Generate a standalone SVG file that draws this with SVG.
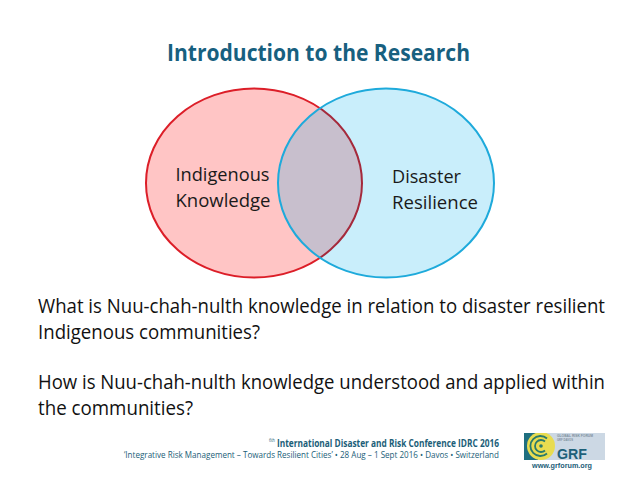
<svg xmlns="http://www.w3.org/2000/svg" width="638" height="478" viewBox="0 0 638 478">
<style>
text{font-family:"Open Sans","Noto Sans",sans-serif}
.body{font-size:19.500px;fill:#111}
.lab{font-size:19px;fill:#1a1a1a}
.foot{fill:#1b5e78}
.logo{font-family:"Liberation Sans",Arial,sans-serif;font-weight:700}
</style>
<defs>
<clipPath id="inBlue"><ellipse cx="386" cy="183" rx="108" ry="94.500"/></clipPath>
<clipPath id="logoBox"><rect x="524" y="433" width="81" height="27"/></clipPath>
</defs>
<rect width="638" height="478" fill="#fff"/>
<text x="167" y="61" font-size="22.500" font-weight="700" fill="#17607f" textLength="303" lengthAdjust="spacingAndGlyphs">Introduction to the Research</text>
<g id="indigenous-knowledge">
<ellipse cx="254" cy="183" rx="108" ry="94.500" fill="#ffc5c5" stroke="#dc1e28" stroke-width="2"/>
</g>
<g id="disaster-resilience">
<ellipse cx="386" cy="183" rx="108" ry="94.500" fill="#c9eefb"/>
</g>
<g id="overlap">
<ellipse cx="254" cy="183" rx="108" ry="94.500" fill="#c8bfcd" clip-path="url(#inBlue)"/>
<ellipse cx="254" cy="183" rx="108" ry="94.500" fill="none" stroke="#a52a3c" stroke-width="2" clip-path="url(#inBlue)"/>
</g>
<g id="disaster-resilience-outline">
<ellipse cx="386" cy="183" rx="108" ry="94.500" fill="none" stroke="#1eaadb" stroke-width="2"/>
</g>
<g id="labels">
<text class="lab" x="175.500" y="181" textLength="94" lengthAdjust="spacingAndGlyphs">Indigenous</text>
<text class="lab" x="175.500" y="207" textLength="95" lengthAdjust="spacingAndGlyphs">Knowledge</text>
<text class="lab" x="392" y="183" textLength="69" lengthAdjust="spacingAndGlyphs">Disaster</text>
<text class="lab" x="392" y="208.500" textLength="86" lengthAdjust="spacingAndGlyphs">Resilience</text>
</g>
<g id="questions">
<text class="body" x="38" y="312.500" textLength="567" lengthAdjust="spacingAndGlyphs">What is Nuu-chah-nulth knowledge in relation to disaster resilient</text>
<text class="body" x="38" y="338.500" textLength="222" lengthAdjust="spacingAndGlyphs">Indigenous communities?</text>
<text class="body" x="38" y="389" textLength="567" lengthAdjust="spacingAndGlyphs">How is Nuu-chah-nulth knowledge understood and applied within</text>
<text class="body" x="38" y="414.500" textLength="155" lengthAdjust="spacingAndGlyphs">the communities?</text>
</g>
<g id="footer">
<text class="foot" x="269" y="442" font-size="4.500" textLength="6" lengthAdjust="spacingAndGlyphs">6th</text>
<text class="foot" x="277" y="446.500" font-size="10" font-weight="700" textLength="222" lengthAdjust="spacingAndGlyphs">International Disaster and Risk Conference IDRC 2016</text>
<text class="foot" x="124" y="458" font-size="8.500" textLength="375" lengthAdjust="spacingAndGlyphs">‘Integrative Risk Management – Towards Resilient Cities’ • 28 Aug – 1 Sept 2016 • Davos • Switzerland</text>
</g>
<g id="grf-logo">
<rect x="524" y="433" width="81" height="27" fill="#ccd8e4"/>
<g clip-path="url(#logoBox)">
<rect x="524" y="433" width="14" height="27" fill="#1f6f80"/>
<circle cx="541" cy="446" r="14" fill="#e8dc50"/>
<path d="M547 438.500A10 10 0 1 0 547 453.500" fill="none" stroke="#2a7a6c" stroke-width="1.800"/>
<path d="M545 441.500A6 6 0 1 0 545 450.500" fill="none" stroke="#2a7a6c" stroke-width="1.800"/>
<circle cx="541" cy="446" r="1.800" fill="#2a7a6c"/>
</g>
<text class="logo" x="557" y="437" font-size="3.200" fill="#7f8f9e" textLength="36" lengthAdjust="spacingAndGlyphs">GLOBAL RISK FORUM</text>
<text class="logo" x="557" y="441" font-size="3.200" fill="#7f8f9e" textLength="16" lengthAdjust="spacingAndGlyphs">GRF DAVOS</text>
<text class="logo" x="557" y="458.500" font-size="14" fill="#1d6079" textLength="30" lengthAdjust="spacingAndGlyphs">GRF</text>
<text class="logo" x="532" y="468" font-size="7" fill="#1b5e78" textLength="60" lengthAdjust="spacingAndGlyphs">www.grforum.org</text>
</g>
</svg>
